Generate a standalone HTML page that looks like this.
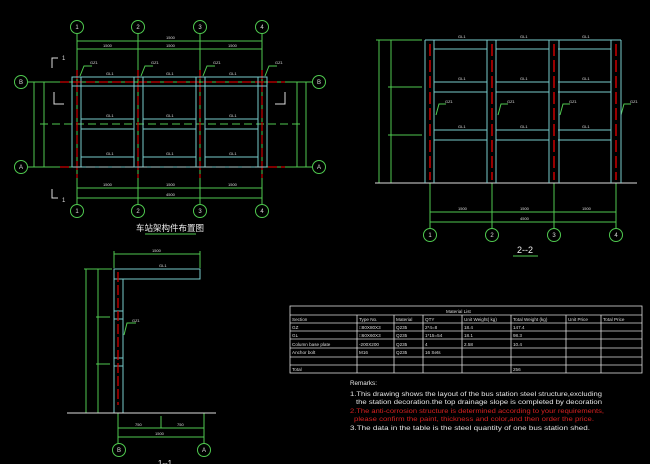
<!DOCTYPE html>
<html><head><meta charset="utf-8"><style>
html,body{margin:0;padding:0;background:#000;}
svg{display:block;}
text{font-family:"Liberation Sans","Noto Sans CJK SC",sans-serif;}
</style></head><body>
<svg width="650" height="464" viewBox="0 0 650 464" xmlns="http://www.w3.org/2000/svg">
<rect width="650" height="464" fill="#000"/>
<!-- ===== PLAN VIEW ===== -->
<g stroke="#4fc94f" stroke-width="1" fill="none">
  <line x1="77" y1="34" x2="77" y2="204"/><line x1="138" y1="34" x2="138" y2="204"/>
  <line x1="200" y1="34" x2="200" y2="204"/><line x1="262" y1="34" x2="262" y2="204"/>
  <line x1="77" y1="41" x2="262" y2="41"/><line x1="77" y1="49" x2="262" y2="49"/>
  <line x1="77" y1="188" x2="262" y2="188"/><line x1="77" y1="198" x2="262" y2="198"/>
  <line x1="28" y1="82" x2="312" y2="82"/><line x1="28" y1="167" x2="312" y2="167"/>
  <line x1="34" y1="82" x2="34" y2="167"/><line x1="44" y1="82" x2="44" y2="167"/>
  <line x1="297" y1="82" x2="297" y2="167"/><line x1="306" y1="82" x2="306" y2="167"/>
  <line x1="40" y1="124" x2="300" y2="124" stroke-dasharray="8,4"/>
  <circle cx="77" cy="27" r="6.5"/><circle cx="138" cy="27" r="6.5"/><circle cx="200" cy="27" r="6.5"/><circle cx="262" cy="27" r="6.5"/>
  <circle cx="77" cy="211" r="6.5"/><circle cx="138" cy="211" r="6.5"/><circle cx="200" cy="211" r="6.5"/><circle cx="262" cy="211" r="6.5"/>
  <circle cx="21" cy="82" r="6.5"/><circle cx="319" cy="82" r="6.5"/><circle cx="21" cy="167" r="6.5"/><circle cx="319" cy="167" r="6.5"/>
  <polyline points="52,68 52,58 58,58" stroke="#ddd"/><polyline points="52,189 52,198 58,198" stroke="#ddd"/>
  <polyline points="54,92 54,104 64,104" stroke="#ddd"/><polyline points="285,92 285,104 275,104" stroke="#ddd"/>
  <line x1="145" y1="234" x2="196" y2="234"/>
  <polyline points="80,76 84,66 92,66"/><polyline points="141,76 145,66 153,66"/><polyline points="203,76 207,66 215,66"/><polyline points="265,76 269,66 277,66"/>
</g>
<g stroke="#c00" stroke-width="1.2" fill="none" stroke-dasharray="9,4">
  <line x1="60" y1="82" x2="285" y2="82"/><line x1="60" y1="167" x2="285" y2="167"/>
  <line x1="77" y1="70" x2="77" y2="178"/><line x1="138" y1="70" x2="138" y2="178"/>
  <line x1="200" y1="70" x2="200" y2="178"/><line x1="262" y1="70" x2="262" y2="178"/>
</g>
<g stroke="#7cc" stroke-width="1" fill="none">
  <rect x="72" y="77" width="195" height="90"/>
  <line x1="72" y1="86" x2="267" y2="86"/>
  <line x1="81" y1="77" x2="81" y2="167"/><line x1="134" y1="77" x2="134" y2="167"/>
  <line x1="143" y1="77" x2="143" y2="167"/><line x1="196" y1="77" x2="196" y2="167"/>
  <line x1="205" y1="77" x2="205" y2="167"/><line x1="258" y1="77" x2="258" y2="167"/>
  <line x1="81" y1="119" x2="134" y2="119"/><line x1="81" y1="129" x2="134" y2="129"/><line x1="81" y1="157" x2="134" y2="157"/>
  <line x1="143" y1="119" x2="196" y2="119"/><line x1="143" y1="129" x2="196" y2="129"/><line x1="143" y1="157" x2="196" y2="157"/>
  <line x1="205" y1="119" x2="258" y2="119"/><line x1="205" y1="129" x2="258" y2="129"/><line x1="205" y1="157" x2="258" y2="157"/>
</g>
<g fill="#ddd" font-size="4">
  <text x="166" y="39">1500</text><text x="103" y="47">1500</text><text x="166" y="47">1500</text><text x="228" y="47">1500</text>
  <text x="103" y="186">1500</text><text x="166" y="186">1500</text><text x="228" y="186">1500</text><text x="166" y="196">4500</text>
  <text x="106" y="75">GL1</text><text x="166" y="75">GL1</text><text x="229" y="75">GL1</text>
  <text x="106" y="117">GL1</text><text x="166" y="117">GL1</text><text x="229" y="117">GL1</text>
  <text x="106" y="155">GL1</text><text x="166" y="155">GL1</text><text x="229" y="155">GL1</text>
  <text x="90" y="64">GZ1</text><text x="151" y="64">GZ1</text><text x="213" y="64">GZ1</text><text x="275" y="64">GZ1</text>
  <text x="62" y="60" font-size="6">1</text><text x="62" y="202" font-size="6">1</text>
</g>
<g fill="#ddd" font-size="6" text-anchor="middle">
  <text x="77" y="29">1</text><text x="138" y="29">2</text><text x="200" y="29">3</text><text x="262" y="29">4</text>
  <text x="77" y="213">1</text><text x="138" y="213">2</text><text x="200" y="213">3</text><text x="262" y="213">4</text>
  <text x="21" y="84">B</text><text x="319" y="84">B</text><text x="21" y="169">A</text><text x="319" y="169">A</text>
</g>
<text x="170" y="231" fill="#eee" font-size="8.5" text-anchor="middle" font-family="'Noto Sans CJK SC',sans-serif">车站架构件布置图</text>
<!-- ===== ELEVATION 2-2 ===== -->
<g stroke="#4fc94f" stroke-width="1" fill="none">
  <line x1="379" y1="40" x2="379" y2="183"/><line x1="391" y1="40" x2="391" y2="183"/>
  <line x1="376" y1="40" x2="422" y2="40"/>
  <line x1="388" y1="87" x2="422" y2="87"/><line x1="388" y1="135" x2="422" y2="135"/>
  <line x1="430" y1="183" x2="430" y2="228"/><line x1="492" y1="183" x2="492" y2="228"/>
  <line x1="554" y1="183" x2="554" y2="228"/><line x1="616" y1="183" x2="616" y2="228"/>
  <line x1="430" y1="212" x2="616" y2="212"/><line x1="430" y1="222" x2="616" y2="222"/>
  <circle cx="430" cy="235" r="6.5"/><circle cx="492" cy="235" r="6.5"/><circle cx="554" cy="235" r="6.5"/><circle cx="616" cy="235" r="6.5"/>
  <line x1="513" y1="256" x2="538" y2="256"/>
  <polyline points="436,115 439,104 446,104"/><polyline points="498,115 501,104 508,104"/><polyline points="560,115 563,104 570,104"/><polyline points="621,115 624,104 631,104"/>
</g>
<line x1="375" y1="183" x2="637" y2="183" stroke="#ddd" stroke-width="1"/>
<g stroke="#7cc" stroke-width="1" fill="none">
  <line x1="425" y1="40" x2="621" y2="40"/>
  <line x1="425" y1="40" x2="425" y2="183"/><line x1="434" y1="40" x2="434" y2="183"/>
  <line x1="487" y1="40" x2="487" y2="183"/><line x1="496" y1="40" x2="496" y2="183"/>
  <line x1="549" y1="40" x2="549" y2="183"/><line x1="559" y1="40" x2="559" y2="183"/>
  <line x1="611" y1="40" x2="611" y2="183"/><line x1="621" y1="40" x2="621" y2="183"/>
  <g id="b"><line x1="434" y1="49" x2="487" y2="49"/><line x1="434" y1="82" x2="487" y2="82"/><line x1="434" y1="92" x2="487" y2="92"/><line x1="434" y1="130" x2="487" y2="130"/><line x1="434" y1="140" x2="487" y2="140"/></g>
  <use href="#b" x="62"/><use href="#b" x="124"/>
</g>
<g stroke="#c00" stroke-width="1.5" stroke-dasharray="12,4">
  <line x1="430" y1="44" x2="430" y2="180"/><line x1="492" y1="44" x2="492" y2="180"/>
  <line x1="554" y1="44" x2="554" y2="180"/><line x1="616" y1="44" x2="616" y2="180"/>
</g>
<g fill="#ddd" font-size="4">
  <text x="458" y="38">GL1</text><text x="520" y="38">GL1</text><text x="582" y="38">GL1</text>
  <text x="458" y="80">GL1</text><text x="520" y="80">GL1</text><text x="582" y="80">GL1</text>
  <text x="458" y="128">GL1</text><text x="520" y="128">GL1</text><text x="582" y="128">GL1</text>
  <text x="445" y="103">GZ1</text><text x="507" y="103">GZ1</text><text x="569" y="103">GZ1</text><text x="630" y="103">GZ1</text>
  <text x="458" y="210">1500</text><text x="520" y="210">1500</text><text x="582" y="210">1500</text><text x="520" y="220">4500</text>
</g>
<g fill="#ddd" font-size="6" text-anchor="middle">
  <text x="430" y="237">1</text><text x="492" y="237">2</text><text x="554" y="237">3</text><text x="616" y="237">4</text>
</g>
<text x="525" y="253" fill="#eee" font-size="9" text-anchor="middle">2--2</text>
<!-- ===== SECTION 1-1 ===== -->
<g stroke="#4fc94f" stroke-width="1" fill="none">
  <line x1="114" y1="254" x2="200" y2="254"/><line x1="114" y1="251" x2="114" y2="268"/><line x1="200" y1="251" x2="200" y2="268"/>
  <line x1="86" y1="269" x2="86" y2="413"/><line x1="98" y1="269" x2="98" y2="413"/>
  <line x1="84" y1="269" x2="112" y2="269"/>
  <line x1="96" y1="317" x2="110" y2="317"/><line x1="96" y1="364" x2="110" y2="364"/>
  <line x1="118" y1="413" x2="118" y2="444"/><line x1="204" y1="413" x2="204" y2="444"/>
  <line x1="118" y1="428" x2="204" y2="428"/><line x1="118" y1="437" x2="204" y2="437"/><line x1="161" y1="416" x2="161" y2="428"/>
  <circle cx="119" cy="450" r="6.5"/><circle cx="204" cy="450" r="6.5"/>
  <polyline points="124,335 127,323 136,323"/>
</g>
<g stroke="#7cc" stroke-width="1" fill="none">
  <rect x="114" y="269" width="86" height="10"/>
  <line x1="114" y1="269" x2="114" y2="413"/><line x1="123" y1="279" x2="123" y2="413"/>
  <line x1="114" y1="311" x2="123" y2="311"/><line x1="114" y1="319" x2="123" y2="319"/>
  <line x1="114" y1="358" x2="123" y2="358"/><line x1="114" y1="366" x2="123" y2="366"/>
</g>
<line x1="118" y1="272" x2="118" y2="405" stroke="#c00" stroke-width="1.3" stroke-dasharray="10,3"/>
<line x1="67" y1="413" x2="216" y2="413" stroke="#ddd" stroke-width="1"/>
<g fill="#ddd" font-size="4">
  <text x="152" y="252">1500</text><text x="159" y="267">GL1</text><text x="132" y="322">GZ1</text>
  <text x="135" y="426">750</text><text x="177" y="426">750</text><text x="155" y="435">1500</text>
</g>
<g fill="#ddd" font-size="6" text-anchor="middle"><text x="119" y="452">B</text><text x="204" y="452">A</text></g>
<text x="165" y="466" fill="#eee" font-size="8" text-anchor="middle">1--1</text>
<!-- ===== TABLE ===== -->
<g stroke="#ddd" stroke-width="0.8" fill="none">
  <rect x="290" y="306" width="352" height="67"/>
  <line x1="290" y1="315" x2="642" y2="315"/><line x1="290" y1="323" x2="642" y2="323"/>
  <line x1="290" y1="331" x2="642" y2="331"/><line x1="290" y1="339" x2="642" y2="339"/>
  <line x1="290" y1="348" x2="642" y2="348"/><line x1="290" y1="357" x2="642" y2="357"/>
  <line x1="290" y1="365" x2="642" y2="365"/>
  <line x1="357" y1="315" x2="357" y2="373"/><line x1="394" y1="315" x2="394" y2="373"/>
  <line x1="423" y1="315" x2="423" y2="373"/><line x1="462" y1="315" x2="462" y2="373"/>
  <line x1="511" y1="315" x2="511" y2="373"/><line x1="566" y1="315" x2="566" y2="373"/>
  <line x1="601" y1="315" x2="601" y2="373"/>
</g>
<g fill="#ddd" font-size="4.6">
  <text x="446" y="313">Material List</text>
  <text x="292" y="321">Section</text><text x="359" y="321">Type No.</text><text x="396" y="321">Material</text><text x="425" y="321">QTY</text>
  <text x="464" y="321">Unit Weight(     kg)</text><text x="513" y="321">Total Weight      (kg)</text><text x="568" y="321">Unit Price</text><text x="603" y="321">Total Price</text>
  <text x="292" y="329">GZ</text><text x="359" y="329">□80X80X3</text><text x="396" y="329">Q235</text><text x="425" y="329">2*4=8</text><text x="464" y="329">18.4</text><text x="513" y="329">147.4</text>
  <text x="292" y="337">GL</text><text x="359" y="337">□60X60X3</text><text x="396" y="337">Q235</text><text x="425" y="337">1*15=54</text><text x="464" y="337">18.1</text><text x="513" y="337">98.3</text>
  <text x="292" y="346">Column base plate</text><text x="359" y="346">-200X200</text><text x="396" y="346">Q235</text><text x="425" y="346">4</text><text x="464" y="346">2.58</text><text x="513" y="346">10.4</text>
  <text x="292" y="354">Anchor bolt</text><text x="359" y="354">M16</text><text x="396" y="354">Q235</text><text x="425" y="354">16 Sets</text>
  <text x="292" y="371">Total</text><text x="513" y="371">256</text>
</g>
<!-- ===== REMARKS ===== -->
<g font-size="6.3" fill="#e6e6e6">
  <text x="350" y="385">Remarks:</text>
  <text x="350" y="396" textLength="252" lengthAdjust="spacingAndGlyphs">1.This drawing shows the layout of the bus station steel structure,excluding</text>
  <text x="356" y="404" textLength="246" lengthAdjust="spacingAndGlyphs">the station decoration.the top drainage slope is completed by decoration</text>
  <text x="350" y="413" fill="#d42020" textLength="254" lengthAdjust="spacingAndGlyphs">2.The anti-corrosion structure is determined according to your requirements,</text>
  <text x="354" y="421" fill="#d42020" textLength="240" lengthAdjust="spacingAndGlyphs">please confirm the paint, thickness and color,and then order the price.</text>
  <text x="350" y="430" textLength="240" lengthAdjust="spacingAndGlyphs">3.The data in the table is the steel quantity of one bus station shed.</text>
</g>
</svg>
</body></html>
